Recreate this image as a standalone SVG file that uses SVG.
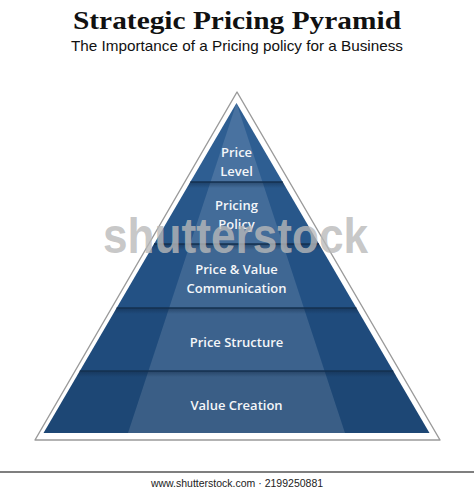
<svg xmlns="http://www.w3.org/2000/svg" width="474" height="489" viewBox="0 0 474 489">
<style>
.title{font-family:"Liberation Serif",serif;font-weight:bold;font-size:26px;fill:#111;}
.sub{font-family:"Liberation Sans","DejaVu Sans",sans-serif;font-size:14.5px;fill:#111;}
.lbl{font-family:"Open Sans","Noto Sans",sans-serif;font-size:13px;font-weight:600;fill:#f4f6f9;text-anchor:middle;}
.strip{fill:#ffffff;fill-opacity:0.13;}
.sep{stroke:#15314f;stroke-width:1.6;}
.foot{font-family:"Liberation Sans","DejaVu Sans",sans-serif;font-size:10.5px;fill:#222;text-anchor:middle;}
.wm{font-family:"Liberation Sans","DejaVu Sans",sans-serif;font-weight:bold;font-size:50px;fill:#b9b9b9;fill-opacity:0.8;}
</style>
<defs>
<linearGradient id="shade" x1="0" y1="0" x2="0" y2="1">
<stop offset="0" stop-color="#0f2540" stop-opacity="0.45"/>
<stop offset="1" stop-color="#0f2540" stop-opacity="0"/>
</linearGradient>
</defs>
<rect width="474" height="489" fill="#ffffff"/>
<text class="title" x="237" y="29" text-anchor="middle" textLength="328" lengthAdjust="spacingAndGlyphs">Strategic Pricing Pyramid</text>
<text class="sub" x="237" y="51" text-anchor="middle" textLength="332" lengthAdjust="spacingAndGlyphs">The Importance of a Pricing policy for a Business</text>

<polygon id="frame" points="237,92 35,440 440,440" fill="#ffffff" stroke="#9a9a9a" stroke-width="1.4" stroke-linejoin="round"/>

<g id="layer-price-level">
<polygon points="236.5,103 190.3,182 282.7,182" fill="#2e5e92"/>
<polygon class="strip" points="236.5,103 210.5,182 262.5,182"/>
<text class="lbl" x="236.5" y="157">Price</text>
<text class="lbl" x="236.5" y="176">Level</text>
</g>
<g id="layer-pricing-policy">
<polygon points="190.3,182 282.7,182 319,244 154,244" fill="#28578a"/>
<polygon class="strip" points="210.5,182 262.5,182 282.9,244 190.1,244"/>
<polygon points="190.3,182 282.7,182 286.2,188 186.8,188" fill="url(#shade)"/>
<line class="sep" x1="190.3" y1="182" x2="282.7" y2="182"/>
<text class="lbl" x="236.5" y="210">Pricing</text>
<text class="lbl" x="236.5" y="229">Policy</text>
</g>
<g id="layer-price-value-communication">
<polygon points="154,244 319,244 356.4,308 116.6,308" fill="#235184"/>
<polygon class="strip" points="190.1,244 282.9,244 303.9,308 169.1,308"/>
<polygon points="154,244 319,244 322.5,250 150.5,250" fill="url(#shade)"/>
<line class="sep" x1="154" y1="244" x2="319" y2="244"/>
<text class="lbl" x="236.5" y="274">Price &amp; Value</text>
<text class="lbl" x="236.5" y="293">Communication</text>
</g>
<g id="layer-price-structure">
<polygon points="116.6,308 356.4,308 393.2,371 79.8,371" fill="#1f4b7c"/>
<polygon class="strip" points="169.1,308 303.9,308 324.6,371 148.4,371"/>
<polygon points="116.6,308 356.4,308 359.9,314 113.1,314" fill="url(#shade)"/>
<line class="sep" x1="116.6" y1="308" x2="356.4" y2="308"/>
<text class="lbl" x="236.5" y="347">Price Structure</text>
</g>
<g id="layer-value-creation">
<polygon points="79.8,371 393.2,371 429.5,433 43.5,433" fill="#1d4775"/>
<polygon class="strip" points="148.4,371 324.6,371 345,433 128,433"/>
<polygon points="79.8,371 393.2,371 396.7,377 76.3,377" fill="url(#shade)"/>
<line class="sep" x1="79.8" y1="371" x2="393.2" y2="371"/>
<text class="lbl" x="236.5" y="410">Value Creation</text>
</g>

<text class="wm" x="103" y="253" textLength="265" lengthAdjust="spacingAndGlyphs">shutterstock</text>

<line x1="0" y1="472" x2="474" y2="472" stroke="#555" stroke-width="1.5"/>
<text class="foot" x="237" y="487">www.shutterstock.com · 2199250881</text>
</svg>
